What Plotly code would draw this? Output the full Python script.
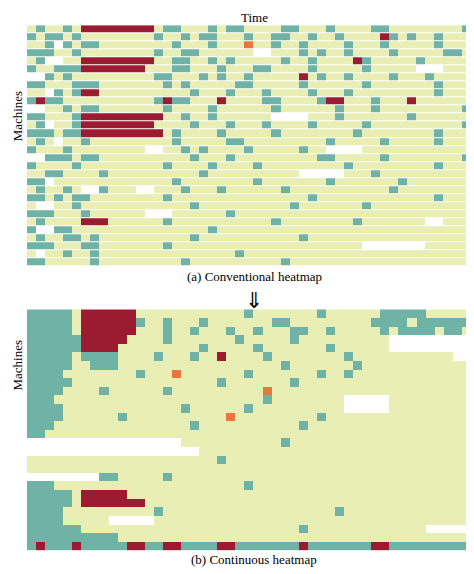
import plotly.graph_objects as go

# cell codes: g=teal, y=pale yellow, o=orange, r=dark red, .=empty
conventional_rows = [
    "ygyygyrrrrrrrryggyyygyggyyyyggyyygyyyyggyyyyyyyygy",
    "gyggygyyyyyyyygyygyggyyygyyggyygyygyyyyrgygyygyyyg",
    "yyg.gyggyyyyyyyygyyygyyyoyygyygyyyygyyygyyyyygyyyy",
    "gggyygyyyyyyyygyyggyyyyyy..yyygygyygyyyygyyyyyggyy",
    "yg..yyrrrrrrrryyggyygygyyyyygyygyyyyrgyyyyygyyyyyy",
    "gyygggrrrrrrryyyggyyygyyyggyyyygyyyyygyyyyy...yyyg",
    "..gygyyyyyyyyyggyyygygyygyyyyyrygyygyyyygyyygyyyyy",
    "ggyyygggyyyyyyygygyyyyyggyyyyygyyyyyygyyyyyyygyyyg",
    "yy.gygrryyyyyyyyyygyyygyyygyyyygyyygyyyyyyyyygyyyy",
    "grggyyyyyyyyyygrggyyyryyyyggyyyygrryyygyyyryyyyyyr",
    "..yygyggyyyyyyygyyyygyyyyyygyyyyyygyyygyyyyyyyyygy",
    "ggyyygrrrrrrrrryygyygyyyyyy....yyygyyyyyyygyyyyyyy",
    "yg.yygrrrrrrrryyyygyyygyyygyyyygyyyyygyyyyyyyyyygy",
    "gggyggrrrrrrrrrygyyyygyyyyygyyyyyyyygyyyyyyyygyyyy",
    "ygy.yygyyyyyyyyygyyyyyggyyyyyyyyygyyyyygyyyyygyyyy",
    "gyyygyyyyyyyy..yygygyyyygyyyyygyy....yyyyyyyyyyyyy",
    "..gggyggyyyyyyyyyygyyygyyyyyyyyyggyyyyygyyyyyyyygy",
    "gyyyygyyyyyyyyygyyyygyyyygyyyyyyyyygyyyyyyyyygyyyy",
    "yyggyyyygyyyyyyyyyygyyyyyyyyyy.....yyygyyyyyyyyyyg",
    "gg.yyyyyyyyyyyyygyyyyyyyygyyyyyyygyyyyyyygyyyyyyyy",
    "ygyygy..gyyy..yyygyyygyyyyyygyyyyyyyyyyygyyyyyyyyy",
    "ggygyggyyyyyyyygyyyyyyyyyyyyyyygyyyyyyyyyyyyygyyyy",
    "y..yygyyyyyyyyyyyygyyyyyyyyyygyyyyyyygyyyyyyyyyyyy",
    "gggyyygyyyyyy...yyyyyygyyyyyyyyyyyyyyyyyyyyyyyyyyy",
    "ygyyyyrrryyyyyygyyyyyyyyyyygyyyyyyyygyyyyyyy..yyyy",
    "g..ggyyyyyyyyyyyyyyygyyyyyyyyyyyyyyyyyyyyyyyyyyyyy",
    "ygyyggygyyyyyyyyyygyyyyyyyyyyygyyyyyyyyyyyyyyyyyyy",
    "gggyyyggyyyyyyygyyyyyyyyyyyyyyyyyyyyy.......yyyyyy",
    "y.yygyygyyyyyyyyyyyyyyygyyyyyyyyyyyyyyyyyyyyyyyyyy",
    "ggyyyyygyyyyyyyyygyyyyyyyyyygyyyyyyyyyyyyyyyyyyyyy",
]
continuous_rows = [
    "gggggyrrrrrryyyyyyyyyyyygyyyyyyygyyyyyygggggyyyyyy",
    "gggggyrrrrrrgyygyyygyyyyyyyggyyyyyyyyyggggyggggggg",
    "gggggyrrrrrryyygyygyyygyygyyyggyygyyyyygyggggyggyy",
    "ggggggrrrrryyyygyyyyyyygyyyyygyyyyyyyyyy..........",
    "ggggggrrrryyyyyyyyygyyyyygyyyyyyygyyyyyy..........",
    "gggggyggggyyyygyyygyyryyyygyyyyyyyygyyyyyyyyyyy...",
    "gggggyygggyyyyyyyyyyyyyyyyyygyyyyyyygyyyyyyyyyyyyy",
    "ggggyyyyyyyygyyyoyyyyyyygyyyyyyygyygyyyyyyyyyyyyyy",
    "gggggyyyyyyyyyyyyyyyygyyyyyyygyyyyyyyyyyyyyyyyyyyy",
    "ggggyyyygyyyyyygyyyyyyyyyyoyyyyyyyyyyyyyyyyyyyyyyy",
    "gggyyyyyyyyyyyyyyyyyyyyyyygyyyyyyyy.....yyyyyyyyyy",
    "ggggyyyyyyyyyyyyygyyyyyygyyyyyyyyyy.....yyyyyyyyyy",
    "ggggyyyyyygyyyyyyyyyyyoyyyyyyyyygyyyyyyyyyyyyyyyyy",
    "gggyyyyyyyyyyyyyyygyyyyyyyyyyygyyyyyyyyyyyyyyyyyyy",
    "ggyyyyyyyyyyyyyyyyyyyyyyyyyyyyyyyyyyyyyyyyyyyyyyyy",
    ".................yyyyyyyyyyygyyyyyyyyyyyyyyyyyyyyy",
    "...................yyyyyyyyyyyyyyyyyyyyyyyyyyyyyyy",
    "yyyyyyyyyyyyyyyyyyyyygyyyyyyyyyyyyyyyyyyyyyyyyyyyy",
    "yyyyyyyyyyyyyyyyyyyyyyyyyyyyyyyyyyyyyyyyyyyyyyyyyy",
    "........ggyyyyygyyyyyyyyyyyyyyyyyyyyyyyyyyyyyyyyyy",
    "gggyyyyyyyyyyyyyyyyyyyyygyyyyyyyyyyyyyyyyyyyyyyyyy",
    "gggggyrrrrryyyyyyyyyyyyyyyyyyyyyyyyyyyyyyyyyyyyyyy",
    "gggggyrrrrrrryyyyyyyyyyyyyyyyyyyyyyyyyyyyyyyyyyyyy",
    "ggggyyyyyyyyyygyyyyyyyyyyyyyyyyyyygyyyyyyyyyyyyyyy",
    "ggggyyyyy.....yyyyyyyyyyyyyyyyyyyyyyyyyyyyyyyyyyyy",
    "ggggggyyyyyyyyyyyyyyyyyyyyyyyygyyyyyyyyyyyyy......",
    "ggggggggggyyyyyyyyyyyyyyyyyyyyyyyyyyyyyyyyyyyyyyyy",
    "grgggrgggggrrggrrggggrrgggggggrgggggggrrgggggggggg",
]
cell_codes = {"g": 0, "y": 1, "o": 2, "r": 3, ".": None}
cell_colors = ["#6fb2a6", "#e9efb4", "#e8763e", "#9b1b30"]

def to_z(rows):
    return [[cell_codes[c] for c in r.ljust(50, "y")[:50]] for r in rows]

cs = [[0, cell_colors[0]], [0.25, cell_colors[0]], [0.25, cell_colors[1]], [0.5, cell_colors[1]],
      [0.5, cell_colors[2]], [0.75, cell_colors[2]], [0.75, cell_colors[3]], [1, cell_colors[3]]]

fig = go.Figure()
fig.add_trace(go.Heatmap(z=to_z(conventional_rows), colorscale=cs, zmin=0, zmax=3, showscale=False,
                         xgap=0, ygap=1, xaxis="x", yaxis="y"))
fig.add_trace(go.Heatmap(z=to_z(continuous_rows), colorscale=cs, zmin=0, zmax=3, showscale=False,
                         xgap=0, ygap=0, xaxis="x2", yaxis="y2"))
ax = dict(showticklabels=False, showgrid=False, zeroline=False, ticks="", domain=[0.04, 0.995])
fig.update_layout(
    width=474, height=574, margin=dict(l=0, r=0, t=0, b=0),
    plot_bgcolor="white", paper_bgcolor="white",
    font=dict(family="Liberation Serif", size=13, color="black"),
    xaxis=ax, xaxis2=dict(ax, anchor="y2"),
    yaxis=dict(showticklabels=False, showgrid=False, zeroline=False, autorange="reversed", domain=[0.55, 0.97]),
    yaxis2=dict(showticklabels=False, showgrid=False, zeroline=False, autorange="reversed", domain=[0.055, 0.475], anchor="x2"),
    annotations=[
        dict(text="Time", x=0.52, y=1.0, xref="paper", yref="paper", showarrow=False, yanchor="top"),
        dict(text="Machines", x=0.0, y=0.86, xref="paper", yref="paper", showarrow=False, textangle=-90, xanchor="left"),
        dict(text="Machines", x=0.0, y=0.33, xref="paper", yref="paper", showarrow=False, textangle=-90, xanchor="left"),
        dict(text="(a) Conventional heatmap", x=0.52, y=0.548, xref="paper", yref="paper", showarrow=False, yanchor="top"),
        dict(text="⇓", x=0.52, y=0.515, xref="paper", yref="paper", showarrow=False, yanchor="top", font=dict(size=22, family="DejaVu Sans")),
        dict(text="(b) Continuous heatmap", x=0.52, y=0.022, xref="paper", yref="paper", showarrow=False, yanchor="bottom"),
    ],
)
fig.write_html("out.html")
